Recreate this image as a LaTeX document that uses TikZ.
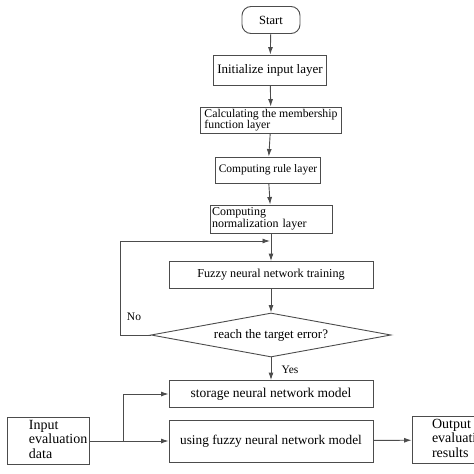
\documentclass[tikz,border=0pt]{standalone}
\usepackage{fontspec}
\setmainfont{Liberation Serif}
\usetikzlibrary{arrows.meta, shapes.geometric}

\begin{document}
\begin{tikzpicture}[x=1pt, y=-1pt, line width=0.9pt,
    box/.style={draw=black!70, rectangle, inner sep=2pt, font=\fontsize{11.5}{12}\selectfont},
    rbox/.style={box, rounded corners=9pt},
    dia/.style={draw=black!70, diamond, aspect=5.5, inner sep=0pt, font=\fontsize{13}{14}\selectfont},
    arr/.style={draw=black!70, -{Latex[length=7.5pt, width=5pt]}},
    lbl/.style={font=\fontsize{11.5}{12}\selectfont}]
  % page 474 x 474, one unit = one pixel
  \useasboundingbox (0,0) rectangle (474,474);
  \clip (0,0) rectangle (474,474);
  % main column
  \node[rbox, minimum width=58, minimum height=27, font=\fontsize{12.5}{13}\selectfont] (start) at (271,20) {Start};
  \node[box, minimum width=113, minimum height=30, font=\fontsize{13}{14}\selectfont] (init) at (270,70) {Initialize input layer};
  \node[box, minimum width=141, minimum height=26, align=left,
        inner ysep=1pt, font=\fontsize{11.8}{11.5}\selectfont] (memb) at (271,120)
        {Calculating the membership\\function layer};
  \node[box, minimum width=105, minimum height=26] (rule) at (268,170) {Computing rule layer};
  \node[box, minimum width=122, minimum height=28, text width=118, align=left,
        inner ysep=1pt, font=\fontsize{12}{12}\selectfont] (norm) at (271,219)
        {Computing\\normalization layer};
  \node[box, minimum width=204, minimum height=27, font=\fontsize{12.2}{13}\selectfont] (train) at (271,275) {Fuzzy neural network training};
  \node[dia, minimum width=240, minimum height=44] (check) at (271,335) {reach the target error?};
  \node[box, minimum width=204, minimum height=27, font=\fontsize{13.5}{14}\selectfont] (store) at (271,394) {storage neural network model};
  \node[box, minimum width=204, minimum height=42, font=\fontsize{13.3}{14}\selectfont] (use) at (271,441) {using fuzzy neural network model};
  % side boxes
  \node[box, minimum width=82, minimum height=47, inner sep=0pt,
        font=\fontsize{14}{14.5}\selectfont] (input) at (48,441)
        {\makebox[78pt][l]{\hspace{20pt}\begin{tabular}{@{}l@{}}Input\\evaluation\\data\end{tabular}}};
  \node[box, minimum width=82, minimum height=47, inner sep=0pt,
        font=\fontsize{14}{14.5}\selectfont] (output) at (453,440)
        {\makebox[78pt][l]{\hspace{18pt}\begin{tabular}{@{}l@{}}Output\\evaluation\\results\end{tabular}}};
  \coordinate (merge) at (271,241);
  \coordinate (split) at (123,441);
  % connectors
  \draw[arr] (start) -- (init);
  \draw[arr] (init) -- (memb);
  \draw[arr] (memb) -- (rule);
  \draw[arr] (rule) -- (norm);
  \draw[arr] (norm) -- (train);
  \draw[arr] (train) -- (check);
  \draw[arr] (check.west) -- ++(-30,0) |- ([xshift=-1pt]merge);
  \draw[arr] (check) -- (store);
  \draw[arr] (input) -- (use);
  \draw[arr] (split) |- (store);
  \draw[arr] (use) -- (output);
  \node[lbl] (no) at (134,317) {No};
  \node[lbl] (yes) at (290,370) {Yes};
\end{tikzpicture}
\end{document}
